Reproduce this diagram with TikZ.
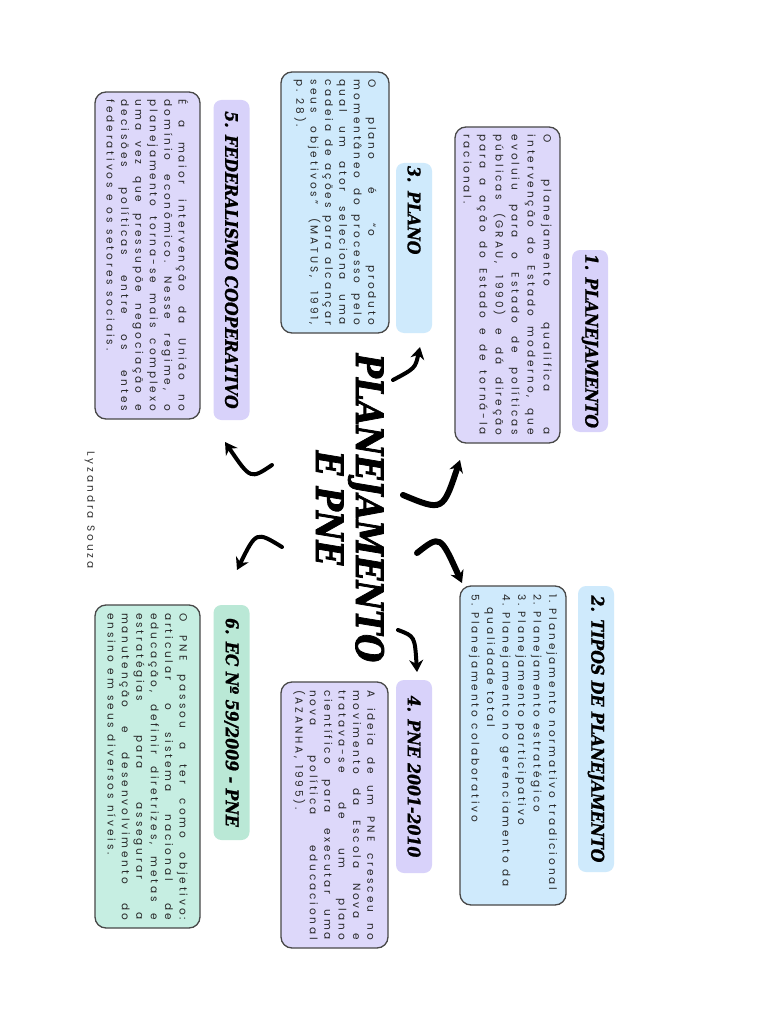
\documentclass[tikz,border=0pt]{standalone}
\usepackage{fontspec}
\usepackage{tikz}
\usetikzlibrary{arrows.meta}
\setmainfont{Poppins}
\newfontfamily\bodyfont{Poppins}
\newfontfamily\headfont[FakeStretch=0.9,FakeBold=1.2]{DejaVu Serif}
\newfontfamily\bigheadfont[FakeStretch=0.85,FakeBold=2]{DejaVu Serif}
% wide tracking for the body text
\newXeTeXintercharclass\trackclass
\newcount\tc
\tc=33 \loop \XeTeXcharclass\tc=\trackclass \advance\tc by 1 \ifnum\tc<592 \repeat
\XeTeXcharclass"201C=\trackclass
\XeTeXcharclass"201D=\trackclass
\XeTeXinterchartoks\trackclass\trackclass={\kern2.9pt}
\definecolor{cLilac}{RGB}{221,216,250}
\definecolor{cLilacT}{RGB}{216,210,250}
\definecolor{cSky}{RGB}{207,234,252}
\definecolor{cMint}{RGB}{198,238,226}
\definecolor{cMintT}{RGB}{186,232,214}
\definecolor{cEdge}{RGB}{72,72,72}
\newcommand{\wordgap}{\frenchspacing\spaceskip=6.5pt plus 1pt minus 1pt\relax}
\newcommand{\jl}[1]{\makebox[\hsize][s]{\frenchspacing\spaceskip=6.5pt plus 60pt minus 1pt\relax#1}}
\newcommand{\bodysize}[1]{\bodyfont\fontsize{10.5}{#1}\selectfont\XeTeXinterchartokenstate=1 }
\tikzset{
	tag/.style  ={rectangle, rounded corners=8pt, minimum height=36pt, inner xsep=3pt, inner ysep=0pt, font=\headfont\fontsize{17.5}{20}\selectfont\bfseries\itshape},
	card/.style ={rectangle, rounded corners=11pt, draw=cEdge, line width=1.3pt, inner xsep=8pt, inner ysep=0pt, align=left, text=black!85, font=\bodysize{14.4}, execute at begin node=\wordgap},
	swoosh/.style={-{Stealth[length=12pt, width=14pt]}, line width=4pt, line cap=round},
}
\begin{document}
\begin{tikzpicture}[x=1pt, y=1pt]
	\useasboundingbox (0,0) rectangle (768,-1024);
	\fill[white] (0,0) rectangle (768,-1024);
	% the whole map is laid out sideways
	\begin{scope}[rotate=-90, transform shape]
		% centre
		\node[align=center, font=\bigheadfont\fontsize{38}{40}\selectfont\bfseries\itshape] (title) at (508,350) {PLANEJAMENTO\\E PNE};
		\node[font=\bodysize{13}, text=black!80, execute at begin node=\wordgap] (author) at (510,90) {Lyzandra Souza};
		% 1
		\node[tag, fill=cLilacT, minimum width=182pt] (t1) at (341,590) {1. PLANEJAMENTO};
		\node[card, fill=cLilac, text width=300pt, minimum height=105pt, font=\bodysize{16}] (b1) at (285,507.5) {%
			\jl{O planejamento qualifica a}\\
			\jl{intervenção do Estado moderno, que}\\
			\jl{evoluiu para o Estado de políticas}\\
			\jl{públicas (GRAU, 1990) e dá direção}\\
			\jl{para a ação do Estado e de torná-la}\\
			racional.};
		% 2
		\node[tag, fill=cSky, minimum width=286pt] (t2) at (729,596) {2. TIPOS DE PLANEJAMENTO};
		\node[card, fill=cSky, text width=303pt, minimum height=106pt, font=\bodysize{15.5}] (b2) at (745.5,513) {%
			1. Planejamento normativo tradicional\\
			2. Planejamento estratégico\\
			3. Planejamento participativo\\
			4. Planejamento no gerenciamento da\\
			\hspace*{1.3em}qualidade total\\
			5. Planejamento colaborativo};
		% 3
		\node[tag, fill=cSky, text width=164pt, align=left] (t3) at (248,414) {3. PLANO};
		\node[card, fill=cSky, text width=245pt, minimum height=108pt] (b3) at (202.5,335) {%
			\jl{O plano é “o produto}\\
			\jl{momentâneo do processo pelo}\\
			\jl{qual um ator seleciona uma}\\
			\jl{cadeia de ações para alcançar}\\
			\jl{seus objetivos” (MATUS, 1991,}\\
			p. 28).};
		% 4
		\node[tag, fill=cLilacT, minimum width=193pt] (t4) at (776.5,414) {4. PNE 2001-2010};
		\node[card, fill=cLilac, text width=250pt, minimum height=107pt] (b4) at (815,334.5) {%
			\jl{A ideia de um PNE cresceu no}\\
			\jl{movimento da Escola Nova e}\\
			\jl{tratava-se de um plano}\\
			\jl{científico para executar uma}\\
			\jl{nova política educacional}\\
			(AZANHA, 1995).};
		% 5
		\node[tag, fill=cLilacT, minimum width=320pt] (t5) at (260,231.5) {5. FEDERALISMO COOPERATIVO};
		\node[card, fill=cLilac, text width=311pt, minimum height=105pt] (b5) at (255.5,147.5) {%
			\jl{É a maior intervenção da União no}\\
			\jl{domínio econômico. Nesse regime, o}\\
			\jl{planejamento torna-se mais complexo}\\
			\jl{uma vez que pressupõe negociação e}\\
			\jl{decisões políticas entre os entes}\\
			federativos e os setores sociais.};
		% 6
		\node[tag, fill=cMintT, minimum width=235pt] (t6) at (722.5,231.5) {6. EC Nº 59/2009 - PNE};
		\node[card, fill=cMint, text width=307pt, minimum height=105pt] (b6) at (766.5,147.5) {%
			\jl{O PNE passou a ter como objetivo:}\\
			\jl{articular o sistema nacional de}\\
			\jl{educação, definir diretrizes, metas e}\\
			\jl{estratégias para assegurar a}\\
			\jl{manutenção e desenvolvimento do}\\
			ensino em seus diversos níveis.};
		% arrows
		\coordinate (a1s) at (495,403); \coordinate (a1e) at (460,460);
		\coordinate (a2s) at (553,417); \coordinate (a2e) at (583,462);
		\coordinate (a3s) at (380,393); \coordinate (a3e) at (347,420);
		\coordinate (a4s) at (630,398); \coordinate (a4e) at (672,417);
		\coordinate (a5s) at (465,272); \coordinate (a5e) at (442,225);
		\coordinate (a6s) at (547,282); \coordinate (a6e) at (570,237);
		\draw[swoosh, line width=6pt] (a1s) .. controls (511.5,442.8) .. (a1e);
		\draw[swoosh, line width=6pt] (a2s) .. controls (534.7,440.2) .. (a2e);
		\draw[swoosh] (a3s) .. controls (368.2,415.2) .. (a3e);
		\draw[swoosh] (a4s) .. controls (636.3,414.8) .. (a4e);
		\draw[swoosh] (a5s) .. controls (479.5,250.5) .. (a5e);
		\draw[swoosh] (a6s) .. controls (531.2,256.2) .. (a6e);
	\end{scope}
\end{tikzpicture}
\end{document}
